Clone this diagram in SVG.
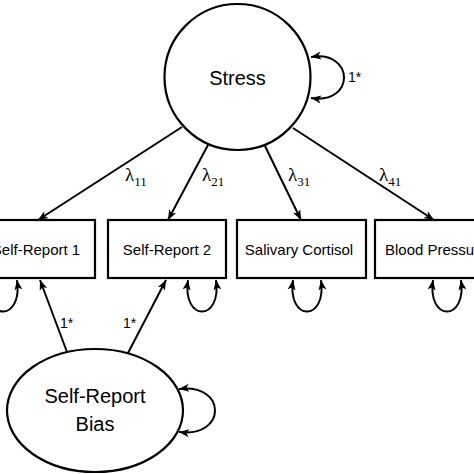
<svg xmlns="http://www.w3.org/2000/svg" width="474" height="474" viewBox="0 0 474 474">
<defs>
<marker id="ah" markerUnits="userSpaceOnUse" markerWidth="12" markerHeight="10" refX="10" refY="4" orient="auto-start-reverse" overflow="visible">
<path d="M0,0 L10,4 L0,8 L2.5,4 z" fill="#000"/>
</marker>
<style>
.shape{fill:#fff;stroke:#000;stroke-width:2.2}
.conn{fill:none;stroke:#000;stroke-width:2}
.lbl{font-family:"Liberation Sans",Arial,sans-serif;fill:#000}
.big{font-size:20px}
.box{font-size:15px}
.coef{font-size:14px}
.lam{font-family:"Liberation Serif","Times New Roman",serif;font-size:19px;fill:#000}
.sub{font-size:13px}
</style>
</defs>
<rect width="474" height="474" fill="#fff"/>

<g id="connectors">
<line class="conn" x1="182" y1="127" x2="38" y2="220" marker-end="url(#ah)"/>
<line class="conn" x1="208" y1="145" x2="168" y2="220" marker-end="url(#ah)"/>
<line class="conn" x1="265" y1="146" x2="301" y2="220" marker-end="url(#ah)"/>
<line class="conn" x1="293" y1="128" x2="434" y2="220" marker-end="url(#ah)"/>
<line class="conn" x1="67" y1="352" x2="40" y2="280" marker-end="url(#ah)"/>
<line class="conn" x1="128" y1="353" x2="166" y2="280" marker-end="url(#ah)"/>
<path class="conn" d="M311,57 C355,50 355,105 311,98" marker-start="url(#ah)" marker-end="url(#ah)"/>
<path class="conn" d="M179,389 C227,383 227,438 179,432" marker-start="url(#ah)" marker-end="url(#ah)"/>
<path class="conn" d="M-11,280 C-17,322 23,322 17,280" marker-start="url(#ah)" marker-end="url(#ah)"/>
<path class="conn" d="M188,280 C182,322 222,322 216,280" marker-start="url(#ah)" marker-end="url(#ah)"/>
<path class="conn" d="M293,280 C287,322 327,322 321,280" marker-start="url(#ah)" marker-end="url(#ah)"/>
<path class="conn" d="M433,280 C427,322 467,322 461,280" marker-start="url(#ah)" marker-end="url(#ah)"/>
<text class="lam" x="125" y="181">λ<tspan class="sub" dy="5">11</tspan></text>
<text class="lam" x="202" y="181">λ<tspan class="sub" dy="5">21</tspan></text>
<text class="lam" x="288" y="181">λ<tspan class="sub" dy="5">31</tspan></text>
<text class="lam" x="379" y="181">λ<tspan class="sub" dy="5">41</tspan></text>
<text class="lbl coef" x="348" y="82">1*</text>
<text class="lbl coef" x="60" y="328">1*</text>
<text class="lbl coef" x="123" y="328">1*</text>
</g>

<g id="stress">
<circle class="shape" cx="237.5" cy="77" r="73"/>
<text class="lbl big" x="237.5" y="85" text-anchor="middle">Stress</text>
</g>

<g id="self-report-1">
<rect class="shape" x="-23" y="220" width="118" height="58"/>
<text class="lbl box" x="36" y="255" text-anchor="middle">Self-Report 1</text>
</g>

<g id="self-report-2">
<rect class="shape" x="108" y="220" width="118" height="58"/>
<text class="lbl box" x="167" y="255" text-anchor="middle">Self-Report 2</text>
</g>

<g id="salivary-cortisol">
<rect class="shape" x="237" y="220" width="129" height="58"/>
<text class="lbl box" x="299" y="255" text-anchor="middle">Salivary Cortisol</text>
</g>

<g id="blood-pressure">
<rect class="shape" x="375" y="220" width="130" height="58"/>
<text class="lbl box" x="385" y="255">Blood Pressure</text>
</g>

<g id="self-report-bias">
<ellipse class="shape" cx="95" cy="410.5" rx="88" ry="61.5"/>
<text class="lbl big" x="95" y="403" text-anchor="middle">Self-Report</text>
<text class="lbl big" x="95" y="431" text-anchor="middle">Bias</text>
</g>
</svg>
